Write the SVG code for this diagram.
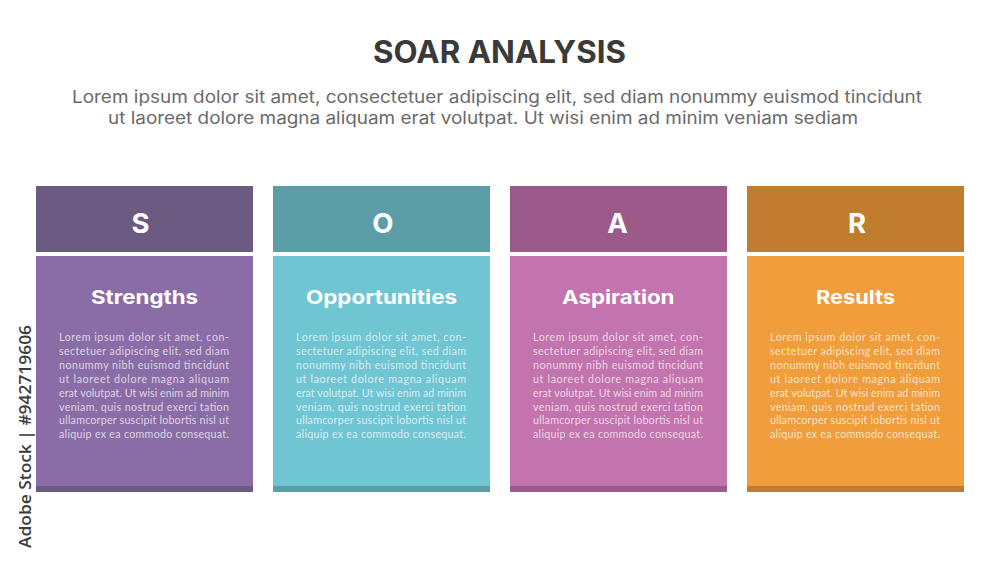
<svg xmlns="http://www.w3.org/2000/svg" width="1000" height="563" viewBox="0 0 1000 563">
<style>
.title{font-family:Inter,"Open Sans","Liberation Sans",sans-serif;font-weight:700;font-size:31px;fill:#3a3a3a}
.sub{font-family:Inter,"Open Sans","Liberation Sans",sans-serif;font-weight:400;font-size:17px;fill:#6a6a6a}
.letter{font-family:Inter,"Open Sans","Liberation Sans",sans-serif;font-weight:700;font-size:27.5px;fill:#ffffff;text-anchor:middle}
.label{font-family:Inter,"Open Sans","Liberation Sans",sans-serif;font-weight:700;font-size:19px;fill:#ffffff}
.body{font-family:Lato,"Liberation Sans",sans-serif;font-size:10.7px;fill:#ffffff;fill-opacity:0.72}
.wm{font-family:"Open Sans","Liberation Sans",sans-serif;font-weight:600;font-size:17px;fill:#3c3c3c}
</style>
<rect width="1000" height="563" fill="#ffffff"/>
<g id="header">
<text class="title" x="373" y="63" textLength="253" lengthAdjust="spacingAndGlyphs">SOAR ANALYSIS</text>
<text class="sub" x="72" y="103" textLength="850" lengthAdjust="spacingAndGlyphs">Lorem ipsum dolor sit amet, consectetuer adipiscing elit, sed diam nonummy euismod tincidunt</text>
<text class="sub" x="108" y="124" textLength="750" lengthAdjust="spacingAndGlyphs">ut laoreet dolore magna aliquam erat volutpat. Ut wisi enim ad minim veniam sediam</text>
</g>
<g id="node-s">
<rect x="36" y="186" width="217" height="66" fill="#6b5a82"/>
<rect x="36" y="256" width="217" height="236" fill="#8a6ca6"/>
<rect x="36" y="486" width="217" height="6" fill="#6b5a82"/>
<text class="letter" x="140.5" y="233">S</text>
<text class="label" x="91" y="304" textLength="107" lengthAdjust="spacingAndGlyphs">Strengths</text>
<g class="body">
<text x="59" y="341" textLength="170" lengthAdjust="spacing">Lorem ipsum dolor sit amet, con-</text>
<text x="59" y="354.9" textLength="170" lengthAdjust="spacing">sectetuer adipiscing elit, sed diam</text>
<text x="59" y="368.8" textLength="170" lengthAdjust="spacing">nonummy nibh euismod tincidunt</text>
<text x="59" y="382.7" textLength="170" lengthAdjust="spacing">ut laoreet dolore magna aliquam</text>
<text x="59" y="396.6" textLength="170" lengthAdjust="spacing">erat volutpat. Ut wisi enim ad minim</text>
<text x="59" y="410.5" textLength="170" lengthAdjust="spacing">veniam, quis nostrud exerci tation</text>
<text x="59" y="424.4" textLength="170" lengthAdjust="spacing">ullamcorper suscipit lobortis nisl ut</text>
<text x="59" y="438.3" textLength="170" lengthAdjust="spacing">aliquip ex ea commodo consequat.</text>
</g>
</g>
<g id="node-o">
<rect x="273" y="186" width="217" height="66" fill="#5b9ea8"/>
<rect x="273" y="256" width="217" height="236" fill="#70c5d3"/>
<rect x="273" y="486" width="217" height="6" fill="#5b9ea8"/>
<text class="letter" x="382.8" y="233">O</text>
<text class="label" x="306" y="304" textLength="151" lengthAdjust="spacingAndGlyphs">Opportunities</text>
<g class="body">
<text x="296" y="341" textLength="170" lengthAdjust="spacing">Lorem ipsum dolor sit amet, con-</text>
<text x="296" y="354.9" textLength="170" lengthAdjust="spacing">sectetuer adipiscing elit, sed diam</text>
<text x="296" y="368.8" textLength="170" lengthAdjust="spacing">nonummy nibh euismod tincidunt</text>
<text x="296" y="382.7" textLength="170" lengthAdjust="spacing">ut laoreet dolore magna aliquam</text>
<text x="296" y="396.6" textLength="170" lengthAdjust="spacing">erat volutpat. Ut wisi enim ad minim</text>
<text x="296" y="410.5" textLength="170" lengthAdjust="spacing">veniam, quis nostrud exerci tation</text>
<text x="296" y="424.4" textLength="170" lengthAdjust="spacing">ullamcorper suscipit lobortis nisl ut</text>
<text x="296" y="438.3" textLength="170" lengthAdjust="spacing">aliquip ex ea commodo consequat.</text>
</g>
</g>
<g id="node-a">
<rect x="510" y="186" width="217" height="66" fill="#9b5a89"/>
<rect x="510" y="256" width="217" height="236" fill="#c373ad"/>
<rect x="510" y="486" width="217" height="6" fill="#9b5a89"/>
<text class="letter" x="617.5" y="233">A</text>
<text class="label" x="562" y="304" textLength="112.5" lengthAdjust="spacingAndGlyphs">Aspiration</text>
<g class="body">
<text x="533" y="341" textLength="170" lengthAdjust="spacing">Lorem ipsum dolor sit amet, con-</text>
<text x="533" y="354.9" textLength="170" lengthAdjust="spacing">sectetuer adipiscing elit, sed diam</text>
<text x="533" y="368.8" textLength="170" lengthAdjust="spacing">nonummy nibh euismod tincidunt</text>
<text x="533" y="382.7" textLength="170" lengthAdjust="spacing">ut laoreet dolore magna aliquam</text>
<text x="533" y="396.6" textLength="170" lengthAdjust="spacing">erat volutpat. Ut wisi enim ad minim</text>
<text x="533" y="410.5" textLength="170" lengthAdjust="spacing">veniam, quis nostrud exerci tation</text>
<text x="533" y="424.4" textLength="170" lengthAdjust="spacing">ullamcorper suscipit lobortis nisl ut</text>
<text x="533" y="438.3" textLength="170" lengthAdjust="spacing">aliquip ex ea commodo consequat.</text>
</g>
</g>
<g id="node-r">
<rect x="747" y="186" width="217" height="66" fill="#c07d2f"/>
<rect x="747" y="256" width="217" height="236" fill="#f09d3b"/>
<rect x="747" y="486" width="217" height="6" fill="#c07d2f"/>
<text class="letter" x="857" y="233">R</text>
<text class="label" x="816" y="304" textLength="79" lengthAdjust="spacingAndGlyphs">Results</text>
<g class="body">
<text x="770" y="341" textLength="170" lengthAdjust="spacing">Lorem ipsum dolor sit amet, con-</text>
<text x="770" y="354.9" textLength="170" lengthAdjust="spacing">sectetuer adipiscing elit, sed diam</text>
<text x="770" y="368.8" textLength="170" lengthAdjust="spacing">nonummy nibh euismod tincidunt</text>
<text x="770" y="382.7" textLength="170" lengthAdjust="spacing">ut laoreet dolore magna aliquam</text>
<text x="770" y="396.6" textLength="170" lengthAdjust="spacing">erat volutpat. Ut wisi enim ad minim</text>
<text x="770" y="410.5" textLength="170" lengthAdjust="spacing">veniam, quis nostrud exerci tation</text>
<text x="770" y="424.4" textLength="170" lengthAdjust="spacing">ullamcorper suscipit lobortis nisl ut</text>
<text x="770" y="438.3" textLength="170" lengthAdjust="spacing">aliquip ex ea commodo consequat.</text>
</g>
</g>
<g id="connectors"></g>
<text class="wm" transform="translate(31,548) rotate(-90)" textLength="223" lengthAdjust="spacingAndGlyphs">Adobe Stock | #942719606</text>
</svg>
